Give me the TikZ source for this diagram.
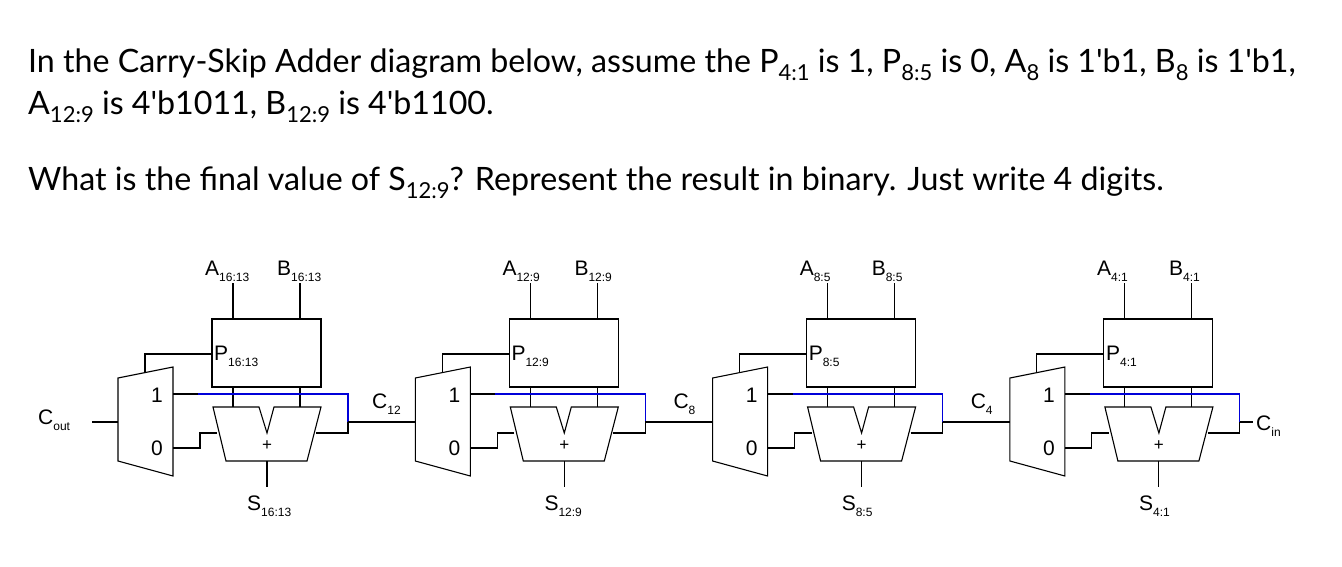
\documentclass[tikz,border=0pt]{standalone}
\usepackage{fontspec}
\setmainfont{Lato}
\newfontfamily\dgfont{Liberation Sans}
\newcommand{\qsub}[1]{\raisebox{-0.25em}{\fontsize{22}{22}\selectfont #1}}
\newcommand{\dsub}[1]{\raisebox{-0.3em}{\fontsize{12}{12}\selectfont #1}}
\newcommand{\ap}{\textquotesingle}
\tikzset{wire/.style={line width=1.1pt,black},
  bl/.style={line width=1.1pt,blue!85!black},
  lab/.style={font=\dgfont\fontsize{21}{22}\selectfont,inner sep=0pt,anchor=base west},
  qtext/.style={font=\fontsize{32.2}{36}\selectfont,anchor=base west,inner sep=0pt}}
\newcommand{\blk}[6]{%
\begin{scope}[xshift=#1pt]
 \draw[wire] (118,378) -- (173,367) -- (173,476) -- (118,461) -- cycle;
 \node[lab] at (151,402) {1};
 \node[lab] at (151,455) {0};
 \draw[wire] (145,372) -- (145,354) -- (212,354);
 \draw[wire] (212,319) rectangle (321,387);
 \draw[wire] (233,283) -- (233,319) (300,283) -- (300,319);
 \draw[wire] (233,387) -- (233,407) (300,387) -- (300,407);
 \draw[wire] (213,407) -- (226,461) -- (307,461) -- (321,407) -- (274,407) -- (267,433) -- (259,407) -- cycle;
 \node[font=\dgfont\fontsize{17}{17}\selectfont,inner sep=0pt] at (267,446) {+};
 \draw[wire] (267,461) -- (267,487);
 \draw[wire] (173,394) -- (198,394);
 \draw[bl] (198,394) -- (348,394) -- (348,422);
 \draw[wire] (316,433) -- (348,433) -- (348,422);
 \draw[wire] (217,433) -- (200,433) -- (200,448) -- (173,448);
 \node[lab] at (205,275) {A\dsub{#2}};
 \node[lab] at (277,275) {B\dsub{#3}};
 \node[lab] at (214,360) {P\dsub{#4}};
 \node[lab] at (247,510) {S\dsub{#5}};
 #6
\end{scope}}
\begin{document}
\begin{tikzpicture}[x=1pt,y=-1pt]
\useasboundingbox (0,0) rectangle (1342,566);
\node[qtext] at (28,72) {In the Carry-Skip Adder diagram below, assume the P\qsub{4:1} is 1, P\qsub{8:5} is 0, A\qsub{8} is 1\ap b1, B\qsub{8} is 1\ap b1,};
\node[qtext] at (28,114) {A\qsub{12:9} is 4\ap b1011, B\qsub{12:9} is 4\ap b1100.};
\node[qtext] at (28,190) {What is the final value of S\qsub{12:9}? Represent the result in binary. Just write 4 digits.};
\blk{0}{16:13}{16:13}{16:13}{16:13}{\node[lab] at (372,408) {C\dsub{12}};}
\blk{297.3}{12:9}{12:9}{12:9}{12:9}{\node[lab] at (376,408) {C\dsub{8}};}
\blk{594.6}{8:5}{8:5}{8:5}{8:5}{\node[lab] at (376,408) {C\dsub{4}};}
\blk{891.9}{4:1}{4:1}{4:1}{4:1}{}
\draw[wire] (348,422) -- (415.3,422);
\draw[wire] (645.3,422) -- (712.6,422);
\draw[wire] (942.6,422) -- (1009.9,422);
\draw[wire] (92,422) -- (118,422);
\draw[wire] (1239.9,422) -- (1253,422);
\node[lab] at (38,424) {C\dsub{out}};
\node[lab] at (1256,430) {C\dsub{in}};
\end{tikzpicture}
\end{document}
